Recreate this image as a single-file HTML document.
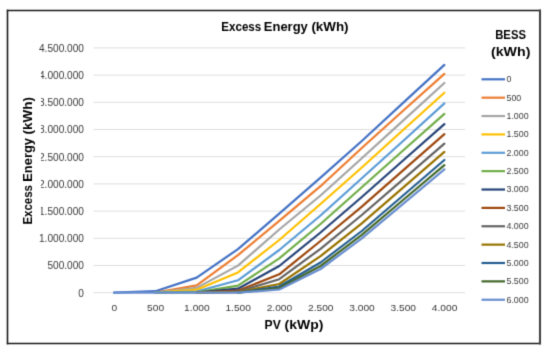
<!DOCTYPE html>
<html><head><meta charset="utf-8"><title>Excess Energy (kWh)</title>
<style>
html,body{margin:0;padding:0;background:#fff;}
svg{display:block;}
#w{width:550px;height:352px;}
text{font-family:"Liberation Sans",Arial,sans-serif;}
.t{font-weight:bold;fill:#000;}
.l{fill:#383838;}
</style></head><body>
<div id="w"><svg width="550" height="352" viewBox="0 0 550 352">
<defs><filter id="bl" x="0" y="0" width="550" height="352" filterUnits="userSpaceOnUse" color-interpolation-filters="sRGB"><feConvolveMatrix order="3" kernelMatrix="0 1 0 1 4 1 0 1 0" divisor="8" edgeMode="duplicate"/></filter></defs>
<g filter="url(#bl)">
<rect x="0" y="0" width="550" height="352" fill="#fff"/>
<line x1="93.5" y1="47.90" x2="465.0" y2="47.90" stroke="#DEDEDE" stroke-width="1"/>
<line x1="93.5" y1="75.10" x2="465.0" y2="75.10" stroke="#DEDEDE" stroke-width="1"/>
<line x1="93.5" y1="102.30" x2="465.0" y2="102.30" stroke="#DEDEDE" stroke-width="1"/>
<line x1="93.5" y1="129.50" x2="465.0" y2="129.50" stroke="#DEDEDE" stroke-width="1"/>
<line x1="93.5" y1="156.70" x2="465.0" y2="156.70" stroke="#DEDEDE" stroke-width="1"/>
<line x1="93.5" y1="183.90" x2="465.0" y2="183.90" stroke="#DEDEDE" stroke-width="1"/>
<line x1="93.5" y1="211.10" x2="465.0" y2="211.10" stroke="#DEDEDE" stroke-width="1"/>
<line x1="93.5" y1="238.30" x2="465.0" y2="238.30" stroke="#DEDEDE" stroke-width="1"/>
<line x1="93.5" y1="265.50" x2="465.0" y2="265.50" stroke="#DEDEDE" stroke-width="1"/>
<line x1="93.5" y1="292.70" x2="465.0" y2="292.70" stroke="#DEDEDE" stroke-width="1"/>
<text class="l" x="39.01" y="51.80" font-size="10.0" textLength="44.99" lengthAdjust="spacingAndGlyphs">4.500.000</text>
<text class="l" x="39.01" y="79.00" font-size="10.0" textLength="44.99" lengthAdjust="spacingAndGlyphs">4.000.000</text>
<text class="l" x="39.01" y="106.20" font-size="10.0" textLength="44.99" lengthAdjust="spacingAndGlyphs">3.500.000</text>
<text class="l" x="39.01" y="133.40" font-size="10.0" textLength="44.99" lengthAdjust="spacingAndGlyphs">3.000.000</text>
<text class="l" x="39.01" y="160.60" font-size="10.0" textLength="44.99" lengthAdjust="spacingAndGlyphs">2.500.000</text>
<text class="l" x="39.01" y="187.80" font-size="10.0" textLength="44.99" lengthAdjust="spacingAndGlyphs">2.000.000</text>
<text class="l" x="39.01" y="215.00" font-size="10.0" textLength="44.99" lengthAdjust="spacingAndGlyphs">1.500.000</text>
<text class="l" x="39.01" y="242.20" font-size="10.0" textLength="44.99" lengthAdjust="spacingAndGlyphs">1.000.000</text>
<text class="l" x="47.44" y="269.40" font-size="10.0" textLength="36.56" lengthAdjust="spacingAndGlyphs">500.000</text>
<text class="l" x="78.37" y="296.60" font-size="10.0" textLength="5.63" lengthAdjust="spacingAndGlyphs">0</text>
<text class="l" x="111.50" y="310.7" font-size="9.7" textLength="5.68" lengthAdjust="spacingAndGlyphs">0</text>
<text class="l" x="147.10" y="310.7" font-size="9.7" textLength="17.04" lengthAdjust="spacingAndGlyphs">500</text>
<text class="l" x="184.13" y="310.7" font-size="9.7" textLength="25.54" lengthAdjust="spacingAndGlyphs">1.000</text>
<text class="l" x="225.40" y="310.7" font-size="9.7" textLength="25.54" lengthAdjust="spacingAndGlyphs">1.500</text>
<text class="l" x="266.68" y="310.7" font-size="9.7" textLength="25.54" lengthAdjust="spacingAndGlyphs">2.000</text>
<text class="l" x="307.96" y="310.7" font-size="9.7" textLength="25.54" lengthAdjust="spacingAndGlyphs">2.500</text>
<text class="l" x="349.24" y="310.7" font-size="9.7" textLength="25.54" lengthAdjust="spacingAndGlyphs">3.000</text>
<text class="l" x="390.52" y="310.7" font-size="9.7" textLength="25.54" lengthAdjust="spacingAndGlyphs">3.500</text>
<text class="l" x="431.79" y="310.7" font-size="9.7" textLength="25.54" lengthAdjust="spacingAndGlyphs">4.000</text>
<rect x="14" y="62" width="27" height="160" fill="#fff"/>
<polyline points="114.14,292.70 155.42,291.20 196.69,277.60 237.97,249.10 279.25,213.70 320.53,177.70 361.81,141.00 403.08,102.90 444.36,64.90" fill="none" stroke="#4472C4" stroke-width="2.2" stroke-linejoin="round" stroke-linecap="round"/>
<polyline points="155.42,292.70 196.69,285.40 237.97,255.20 279.25,220.80 320.53,186.20 361.81,148.00 403.08,110.80 444.36,73.90" fill="none" stroke="#ED7D31" stroke-width="2.2" stroke-linejoin="round" stroke-linecap="round"/>
<polyline points="155.42,292.70 196.69,287.90 237.97,265.60 279.25,229.50 320.53,195.50 361.81,158.20 403.08,120.60 444.36,83.00" fill="none" stroke="#A5A5A5" stroke-width="2.2" stroke-linejoin="round" stroke-linecap="round"/>
<polyline points="155.42,292.70 196.69,289.70 237.97,272.40 279.25,240.00 320.53,204.00 361.81,167.50 403.08,130.00 444.36,92.70" fill="none" stroke="#FFC000" stroke-width="2.2" stroke-linejoin="round" stroke-linecap="round"/>
<polyline points="155.42,292.70 196.69,291.50 237.97,280.30 279.25,250.00 320.53,215.50 361.81,178.20 403.08,141.00 444.36,103.40" fill="none" stroke="#5B9BD5" stroke-width="2.2" stroke-linejoin="round" stroke-linecap="round"/>
<polyline points="155.42,292.70 196.69,292.30 237.97,285.70 279.25,258.40 320.53,224.00 361.81,187.20 403.08,150.50 444.36,113.90" fill="none" stroke="#70AD47" stroke-width="2.2" stroke-linejoin="round" stroke-linecap="round"/>
<polyline points="196.69,292.70 237.97,288.70 279.25,266.00 320.53,232.50 361.81,197.00 403.08,160.50 444.36,124.10" fill="none" stroke="#264478" stroke-width="2.2" stroke-linejoin="round" stroke-linecap="round"/>
<polyline points="196.69,292.70 237.97,290.70 279.25,274.30 320.53,241.00 361.81,206.60 403.08,170.40 444.36,134.20" fill="none" stroke="#9E480E" stroke-width="2.2" stroke-linejoin="round" stroke-linecap="round"/>
<polyline points="196.69,292.70 237.97,291.70 279.25,279.20 320.53,248.80 361.81,215.00 403.08,179.30 444.36,143.70" fill="none" stroke="#636363" stroke-width="2.2" stroke-linejoin="round" stroke-linecap="round"/>
<polyline points="196.69,292.70 237.97,292.20 279.25,284.00 320.53,256.20 361.81,223.30 403.08,187.60 444.36,151.90" fill="none" stroke="#997300" stroke-width="2.2" stroke-linejoin="round" stroke-linecap="round"/>
<polyline points="237.97,292.70 279.25,286.50 320.53,262.50 361.81,231.00 403.08,195.50 444.36,160.00" fill="none" stroke="#255E91" stroke-width="2.2" stroke-linejoin="round" stroke-linecap="round"/>
<polyline points="237.97,292.70 279.25,288.00 320.53,266.00 361.81,234.90 403.08,200.00 444.36,165.20" fill="none" stroke="#43682B" stroke-width="2.2" stroke-linejoin="round" stroke-linecap="round"/>
<polyline points="114.14,292.70 155.42,292.70 196.69,292.70 237.97,292.70 279.25,289.50 320.53,269.00 361.81,238.30 403.08,203.80 444.36,169.30" fill="none" stroke="#698ED0" stroke-width="2.2" stroke-linejoin="round" stroke-linecap="round"/>
<text class="t" y="31.1" font-size="12"><tspan x="221.3" textLength="39.90" lengthAdjust="spacingAndGlyphs">Excess</tspan> <tspan x="263.8" textLength="44.00" lengthAdjust="spacingAndGlyphs">Energy</tspan> <tspan x="311.4" textLength="37.20" lengthAdjust="spacingAndGlyphs">(kWh)</tspan></text>
<text class="t" y="328.8" font-size="12"><tspan x="264.6" textLength="16.20" lengthAdjust="spacingAndGlyphs">PV</tspan> <tspan x="284.6" textLength="38.80" lengthAdjust="spacingAndGlyphs">(kWp)</tspan></text>
<g transform="translate(31.6,224.6) rotate(-90)"><text class="t" y="0" font-size="12"><tspan x="0" textLength="39.60" lengthAdjust="spacingAndGlyphs">Excess</tspan> <tspan x="42.8" textLength="43.80" lengthAdjust="spacingAndGlyphs">Energy</tspan> <tspan x="90.2" textLength="37.40" lengthAdjust="spacingAndGlyphs">(kWh)</tspan></text>
</g>
<text class="t" y="38.7" font-size="12.8"><tspan x="495.2" textLength="30.80" lengthAdjust="spacingAndGlyphs">BESS</tspan></text>
<text class="t" y="56.2" font-size="13.6"><tspan x="491.0" textLength="39.40" lengthAdjust="spacingAndGlyphs">(kWh)</tspan></text>
<line x1="481.5" y1="79.30" x2="505" y2="79.30" stroke="#4472C4" stroke-width="2.2"/>
<text class="l" x="506.5" y="82.20" font-size="8.6" textLength="4.92" lengthAdjust="spacingAndGlyphs">0</text>
<line x1="481.5" y1="97.67" x2="505" y2="97.67" stroke="#ED7D31" stroke-width="2.2"/>
<text class="l" x="506.5" y="100.57" font-size="8.6" textLength="14.75" lengthAdjust="spacingAndGlyphs">500</text>
<line x1="481.5" y1="116.04" x2="505" y2="116.04" stroke="#A5A5A5" stroke-width="2.2"/>
<text class="l" x="506.5" y="118.94" font-size="8.6" textLength="22.12" lengthAdjust="spacingAndGlyphs">1.000</text>
<line x1="481.5" y1="134.41" x2="505" y2="134.41" stroke="#FFC000" stroke-width="2.2"/>
<text class="l" x="506.5" y="137.31" font-size="8.6" textLength="22.12" lengthAdjust="spacingAndGlyphs">1.500</text>
<line x1="481.5" y1="152.78" x2="505" y2="152.78" stroke="#5B9BD5" stroke-width="2.2"/>
<text class="l" x="506.5" y="155.68" font-size="8.6" textLength="22.12" lengthAdjust="spacingAndGlyphs">2.000</text>
<line x1="481.5" y1="171.15" x2="505" y2="171.15" stroke="#70AD47" stroke-width="2.2"/>
<text class="l" x="506.5" y="174.05" font-size="8.6" textLength="22.12" lengthAdjust="spacingAndGlyphs">2.500</text>
<line x1="481.5" y1="189.52" x2="505" y2="189.52" stroke="#264478" stroke-width="2.2"/>
<text class="l" x="506.5" y="192.42" font-size="8.6" textLength="22.12" lengthAdjust="spacingAndGlyphs">3.000</text>
<line x1="481.5" y1="207.89" x2="505" y2="207.89" stroke="#9E480E" stroke-width="2.2"/>
<text class="l" x="506.5" y="210.79" font-size="8.6" textLength="22.12" lengthAdjust="spacingAndGlyphs">3.500</text>
<line x1="481.5" y1="226.26" x2="505" y2="226.26" stroke="#636363" stroke-width="2.2"/>
<text class="l" x="506.5" y="229.16" font-size="8.6" textLength="22.12" lengthAdjust="spacingAndGlyphs">4.000</text>
<line x1="481.5" y1="244.63" x2="505" y2="244.63" stroke="#997300" stroke-width="2.2"/>
<text class="l" x="506.5" y="247.53" font-size="8.6" textLength="22.12" lengthAdjust="spacingAndGlyphs">4.500</text>
<line x1="481.5" y1="263.00" x2="505" y2="263.00" stroke="#255E91" stroke-width="2.2"/>
<text class="l" x="506.5" y="265.90" font-size="8.6" textLength="22.12" lengthAdjust="spacingAndGlyphs">5.000</text>
<line x1="481.5" y1="281.37" x2="505" y2="281.37" stroke="#43682B" stroke-width="2.2"/>
<text class="l" x="506.5" y="284.27" font-size="8.6" textLength="22.12" lengthAdjust="spacingAndGlyphs">5.500</text>
<line x1="481.5" y1="299.74" x2="505" y2="299.74" stroke="#698ED0" stroke-width="2.2"/>
<text class="l" x="506.5" y="302.64" font-size="8.6" textLength="22.12" lengthAdjust="spacingAndGlyphs">6.000</text>
<path d="M7.5 9.6V344.4M6.6 10.5H540.9M6.6 343.5H540.9" fill="none" stroke="#1c1c1c" stroke-width="1.6"/>
<path d="M540 9.6V344.4" fill="none" stroke="#444" stroke-width="2.1"/>
</g>
</svg></div>
</body></html>
